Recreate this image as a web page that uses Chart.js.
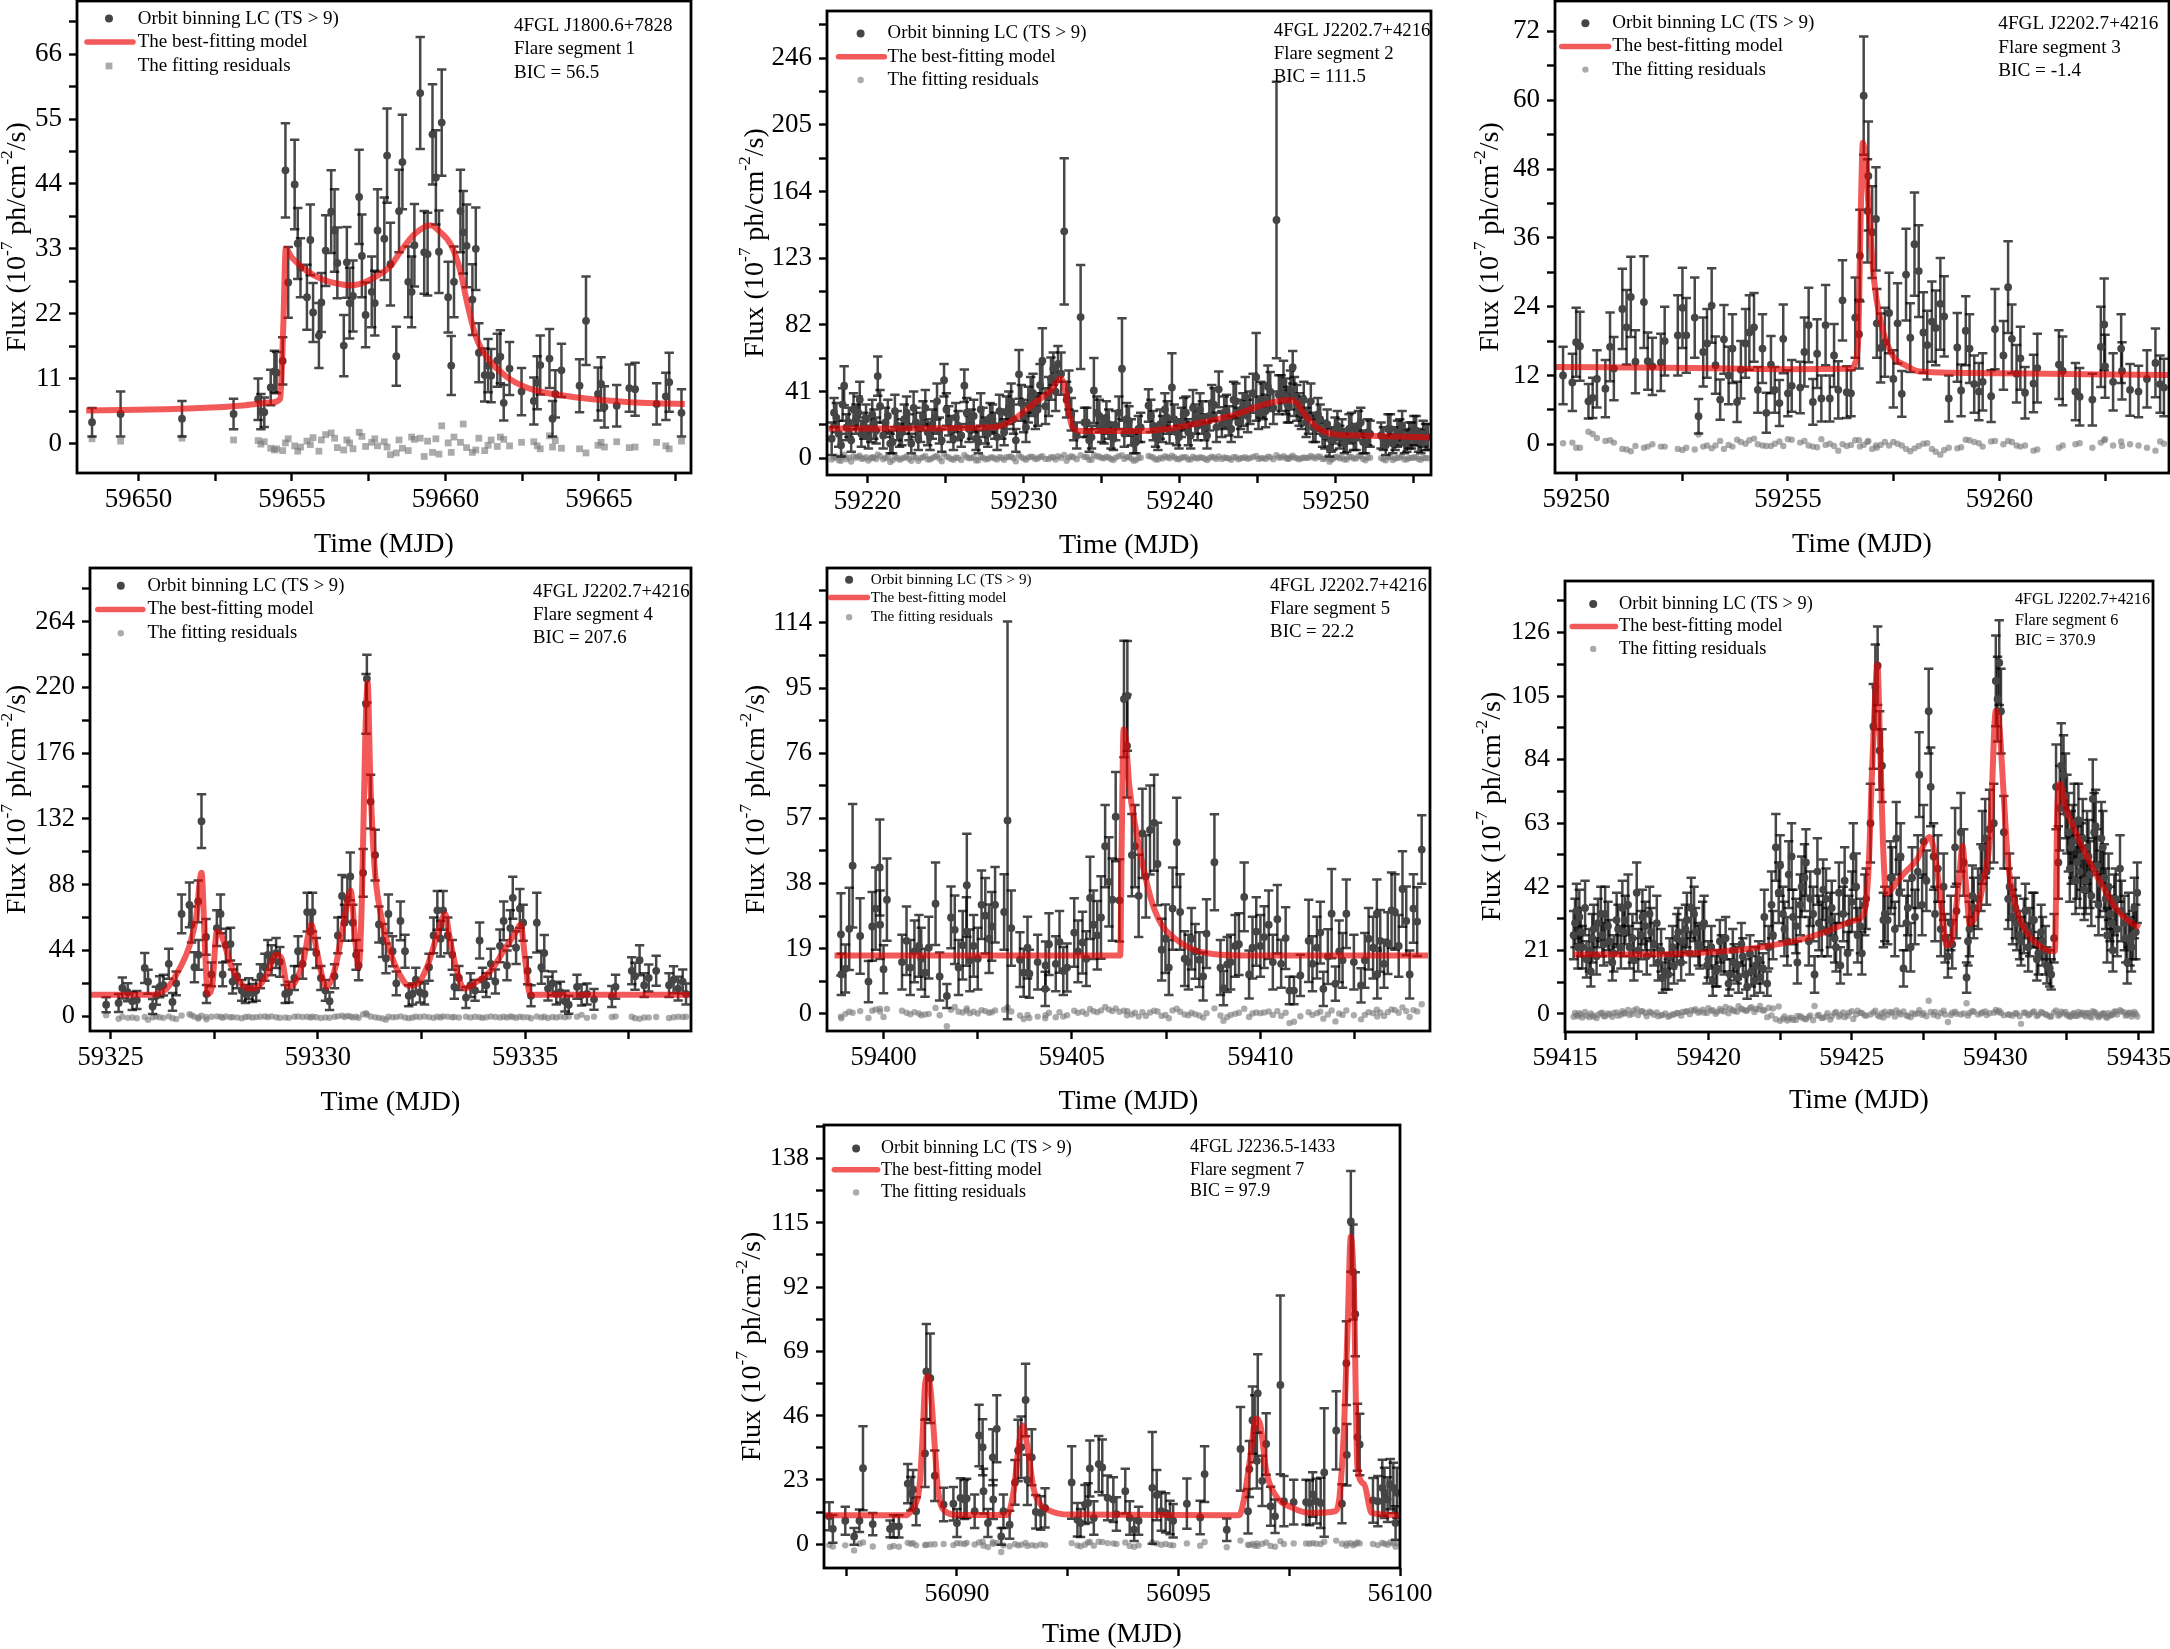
<!DOCTYPE html>
<html>
<head>
<meta charset="utf-8">
<title>Flare segments</title>
<script src="https://cdn.jsdelivr.net/npm/chart.js"></script>
<style>
  html, body { margin: 0; padding: 0; overflow: hidden; background: #fff; }
  body { width: 2170px; height: 1649px; position: relative; }
  canvas { position: absolute; }
</style>
</head>
<body>
<canvas id="c1"></canvas>
<canvas id="c2"></canvas>
<canvas id="c3"></canvas>
<canvas id="c4"></canvas>
<canvas id="c5"></canvas>
<canvas id="c6"></canvas>
<canvas id="c7"></canvas>
<script>
// ---- segment 1 : 4FGL J1800.6+7828 ----
const t1 = [59648.49, 59649.42, 59651.42, 59653.1, 59653.9, 59653.99, 59654.1, 59654.31, 59654.43, 59654.5,
  59654.7, 59654.79, 59654.88, 59655.09, 59655.19, 59655.28, 59655.49, 59655.6, 59655.69, 59655.88,
  59655.96, 59656.1, 59656.28, 59656.39, 59656.48, 59656.69, 59656.79, 59656.88, 59656.99, 59657.19,
  59657.28, 59657.4, 59657.6, 59657.7, 59657.79, 59658.01, 59658.1, 59658.21, 59658.4, 59658.49,
  59658.6, 59658.79, 59658.9, 59658.99, 59659.18, 59659.31, 59659.42, 59659.58, 59659.69, 59659.79,
  59659.88, 59660.09, 59660.19, 59660.28, 59660.49, 59660.58, 59660.69, 59660.88, 59660.99, 59661.09,
  59661.28, 59661.39, 59661.49, 59661.69, 59661.79, 59661.9, 59662.09, 59662.48, 59662.88, 59662.99,
  59663.09, 59663.39, 59663.49, 59663.58, 59663.78, 59664.37, 59664.58, 59664.97, 59665.07, 59665.18,
  59665.58, 59665.99, 59666.18, 59666.88, 59667.18, 59667.29, 59667.69];
const f1 = [3.6, 5.0, 4.2, 5.0, 7.5, 5.4, 5.3, 9.5, 12.2, 12.0,
  14.0, 46.3, 27.3, 43.9, 33.9, 29.8, 24.8, 34.5, 22.2, 18.3,
  23.9, 32.7, 39.3, 36.1, 30.6, 16.6, 30.7, 23.8, 25.0, 41.8,
  31.8, 21.8, 25.7, 23.8, 36.1, 34.7, 48.8, 30.4, 14.8, 39.4,
  47.7, 27.4, 25.7, 33.6, 59.4, 32.4, 32.1, 52.4, 45.1, 32.5,
  54.4, 24.8, 13.2, 27.4, 39.4, 35.8, 33.5, 24.4, 33.0, 15.4,
  11.6, 13.2, 11.5, 14.1, 14.7, 6.9, 12.7, 8.8, 7.2, 10.3,
  13.3, 14.4, 4.2, 8.4, 12.4, 9.8, 20.8, 8.4, 10.1, 6.2,
  6.4, 9.4, 9.2, 6.7, 8.0, 10.4, 5.2];
const e1 = [2.4, 3.8, 3, 2.6, 3.5, 3, 2.5, 3, 3.5, 3.5,
  4, 8, 6, 7.6, 6, 5, 5.5, 6, 5, 5.5,
  5, 6, 7, 7, 6, 5.2, 6, 6, 6, 8,
  7, 5.5, 6, 5.5, 7, 7, 8, 7, 5, 7,
  8, 6, 6, 7, 9.5, 7, 7, 8.5, 8, 7,
  9, 6, 5, 6, 7, 7, 7, 6, 7, 5,
  4.5, 4.5, 4.5, 4.5, 4.5, 3, 4.5, 4, 4, 4.5,
  5, 5, 3, 4, 4.5, 4.5, 7.5, 4.5, 4.5, 3.5,
  3.5, 4, 4.5, 3.5, 4, 5, 4];
const r1 = [0.8, 0.4, 0.9, 0.6, 0.5, -0.1, 0.3, -0.8, -1.1, -0.9,
  -1.2, 0.1, 0.8, -0.4, -1.3, -0.6, 0.4, -0.2, 1.0, -1.3,
  0.6, 1.5, 1.8, 0.9, -0.7, -1.1, 0.6, 0.1, -0.9, 1.9,
  1.2, -0.5, 0.2, 0.8, -0.4, 0.3, -0.6, -1.9, -1.6, 0.6,
  -0.8, -1.2, 1.1, 0.7, 0.9, -2.2, 0.4, -1.5, 0.8, -1.8,
  3.0, 0.1, -1.5, 1.1, 0.2, 3.3, -0.7, -1.5, -1.1, 0.9,
  -1.2, -0.3, 0.6, -0.5, 1.1, 0.7, -0.4, 0.2, 0.3, -0.4,
  -0.9, 1.3, -0.6, 0.5, -0.8, -0.9, -1.6, -0.3, 0.2, -0.6,
  0.3, -0.7, -0.6, 0.2, -0.4, -0.9, 0.4];
const mt1 = [59648.3, 59650, 59652, 59653.5, 59654.4, 59654.62, 59654.72, 59654.8, 59655.0, 59655.5, 59656, 59656.5, 59656.85,
  59657.2, 59657.8, 59658.2, 59658.6, 59659.0, 59659.5, 59659.8, 59660.2, 59660.5, 59660.7, 59661.0, 59661.4, 59662,
  59662.5, 59663, 59664, 59665, 59666, 59667, 59667.8];
const mf1 = [5.6, 5.7, 6.0, 6.5, 7.0, 7.6, 20, 33, 31.5, 29.2, 27.8, 27.1, 26.8,
  27.0, 28.5, 30, 33, 35.5, 37, 36, 33.5, 29, 24, 18, 14.3, 11.3,
  9.8, 8.9, 8.0, 7.4, 7.0, 6.8, 6.7];
const xTicks1 = [59650, 59655, 59660, 59665];
const yTicks1 = [0, 11, 22, 33, 44, 55, 66];

// ---- segment 2 : 4FGL J2202.7+4216 ----
const t2 = [59217.7, 59218.0, 59218.3, 59218.5, 59218.8, 59219.1, 59219.4, 59219.6, 59219.9, 59220.2,
  59220.4, 59220.65, 59221.0, 59221.3, 59221.6, 59221.9, 59222.2, 59222.5, 59222.8, 59223.1,
  59223.4, 59223.7, 59224.0, 59224.3, 59224.6, 59224.9, 59225.2, 59225.5, 59225.8, 59226.2,
  59226.5, 59226.8, 59227.1, 59227.4, 59227.7, 59228.0, 59228.3, 59228.6, 59228.9, 59229.2,
  59229.5, 59229.7, 59230.0, 59230.3, 59230.6, 59230.9, 59231.2, 59231.6, 59231.9, 59232.2,
  59232.6, 59232.9, 59233.2, 59233.65, 59233.9, 59234.2, 59234.5, 59234.7, 59235.0, 59235.3,
  59235.6, 59235.9, 59236.3, 59236.6, 59236.9, 59237.2, 59237.5, 59238.0, 59238.3, 59238.6,
  59238.9, 59239.2, 59239.5, 59239.8, 59240.1, 59240.4, 59240.7, 59241.0, 59241.3, 59241.6,
  59241.9, 59242.2, 59242.5, 59242.7, 59243.0, 59243.3, 59243.6, 59243.9, 59244.2, 59244.5,
  59244.9, 59245.2, 59245.5, 59245.8, 59246.2, 59246.5, 59246.8, 59247.0, 59247.24, 59247.5,
  59247.8, 59248.1, 59248.4, 59248.7, 59249.0, 59249.3, 59249.6, 59249.8, 59250.1, 59250.4,
  59250.7, 59251.0, 59251.3, 59251.6, 59251.9, 59252.2, 59252.9, 59253.2, 59253.5, 59253.8,
  59254.1, 59254.4, 59254.7, 59255.0, 59255.3, 59255.6, 59255.9,
  59217.85, 59218.15, 59218.4, 59218.65, 59218.95, 59219.25, 59219.5, 59219.75, 59220.05, 59220.3,
  59220.55, 59220.8, 59221.15, 59221.45, 59221.75, 59222.05, 59222.35, 59222.65, 59222.95, 59223.25,
  59223.55, 59223.85, 59224.15, 59224.45, 59224.75, 59225.05, 59225.35, 59225.65, 59226.0, 59226.35,
  59226.65, 59226.95, 59227.25, 59227.55, 59227.85, 59228.15, 59228.45, 59228.75, 59229.05, 59229.35,
  59229.85, 59230.15, 59230.45, 59230.75, 59231.05, 59231.4, 59231.75, 59232.05, 59232.4, 59232.75,
  59233.05, 59233.4, 59234.05, 59234.35, 59234.85, 59235.15, 59235.45, 59235.75, 59236.1, 59236.45,
  59236.75, 59237.05, 59237.35, 59238.15, 59238.45, 59238.75, 59239.05, 59239.35, 59239.65, 59239.95,
  59240.25, 59240.55, 59240.85, 59241.15, 59241.45, 59241.75, 59242.05, 59242.35, 59242.85, 59243.15,
  59243.45, 59243.75, 59244.05, 59244.35, 59244.7, 59245.05, 59245.35, 59245.65, 59246.0, 59246.35,
  59246.65, 59246.9, 59247.1, 59247.35, 59247.65, 59247.95, 59248.25, 59248.55, 59248.85, 59249.15,
  59249.45, 59249.7, 59249.95, 59250.25, 59250.55, 59250.85, 59251.15, 59251.45, 59251.75, 59252.05,
  59253.05, 59253.35, 59253.65, 59253.95, 59254.25, 59254.55, 59254.85, 59255.15, 59255.45, 59255.75];
const f2 = [12, 25, 8, 44.6, 22, 30, 28, 15, 24, 18,
  21, 50.5, 14, 26, 10, 20, 16, 28, 9, 22,
  19, 31, 13, 25, 17, 48, 23, 12, 20, 44.6,
  18, 26, 10, 22, 15, 24, 13, 21, 28, 35,
  11, 51.6, 26, 33, 40, 30, 60, 38, 55, 58,
  139.5, 42, 20, 86.8, 22, 11, 41.7, 28, 18, 25,
  14, 20, 55.1, 24, 16, 10, 19, 32.5, 20, 12,
  18, 25, 43.5, 16, 22, 28, 14, 24, 30, 19,
  26, 33, 42.4, 21, 29, 18, 35, 27, 38, 31,
  50, 36, 29, 41, 146.5, 40, 38, 32, 56, 34,
  28, 22, 35, 18, 24, 14, 6, 12, 20, 16,
  11, 19, 13, 22, 9, 15, 14, 8, 18, 12,
  16, 10, 14, 17, 11, 15, 13,
  28, 15, 33, 19, 11, 24, 36, 20, 13, 27,
  17, 32, 22, 9, 29, 14, 24, 19, 31, 12,
  26, 16, 21, 35, 11, 30, 18, 25, 14, 28,
  21, 12, 30, 17, 25, 20, 29, 16, 31, 24,
  34, 19, 38, 28, 45, 32, 49, 41, 52, 36,
  27, 14, 22, 13, 26, 17, 21, 12, 28, 15,
  23, 9, 18, 26, 14, 21, 30, 17, 24, 13,
  27, 16, 31, 20, 25, 14, 34, 19, 28, 23,
  36, 22, 30, 26, 40, 28, 35, 44, 31, 39,
  47, 33, 42, 38, 30, 36, 25, 19, 27, 15,
  21, 11, 17, 13, 9, 18, 12, 20, 10, 16,
  12, 18, 9, 15, 20, 11, 14, 17, 10, 13];
const e2 = [10, 9, 7, 12, 9, 10, 10, 8, 9, 8,
  9, 12, 8, 10, 7, 9, 8, 10, 6, 9,
  9, 11, 8, 10, 8, 10, 9, 7, 9, 10,
  8, 10, 7, 9, 8, 9, 8, 9, 10, 11,
  7, 15, 10, 11, 12, 10, 20, 12, 10, 11,
  45, 12, 9, 32, 9, 7, 20, 10, 8, 10,
  8, 9, 31, 10, 8, 7, 9, 10, 9, 7,
  8, 10, 21, 8, 9, 10, 8, 9, 10, 8,
  9, 10, 11, 8, 10, 8, 11, 9, 12, 10,
  27, 11, 10, 12, 85, 11, 11, 10, 10, 11,
  10, 9, 11, 8, 9, 8, 5, 7, 9, 8,
  7, 9, 8, 9, 6, 8, 8, 6, 9, 7,
  8, 7, 8, 9, 7, 8, 8,
  9, 8, 10, 8, 7, 9, 11, 8, 7, 9,
  8, 10, 9, 6, 10, 7, 9, 8, 10, 7,
  9, 8, 9, 11, 7, 10, 8, 9, 7, 9,
  9, 7, 10, 8, 9, 8, 10, 8, 10, 9,
  11, 9, 12, 10, 13, 11, 13, 12, 13, 11,
  10, 8, 9, 7, 10, 8, 9, 7, 10, 8,
  9, 6, 8, 10, 7, 9, 10, 8, 9, 7,
  10, 8, 11, 9, 10, 8, 11, 9, 10, 9,
  11, 9, 10, 10, 12, 10, 11, 13, 10, 12,
  13, 11, 12, 12, 10, 11, 10, 9, 10, 8,
  9, 7, 8, 7, 6, 9, 7, 9, 7, 8,
  7, 9, 6, 8, 9, 7, 8, 9, 7, 8];
const r2 = [-0.8, 0.9, -1.5, 2.2, 0.4, 1.3, 1.0, -0.3, 0.6, 0.0,
  0.3, 2.4, -0.6, 0.8, -1.3, 0.2, -0.2, 1.1, -1.6, 0.4,
  0.1, 1.4, -0.7, 0.9, -0.1, 2.8, 0.5, -0.9, 0.2, 2.1,
  0.0, 0.8, -1.2, 0.4, -0.5, 0.6, -0.8, 0.3, 0.7, 1.1,
  -1.8, 1.9, -0.1, 0.4, 0.8, -0.2, 1.2, -0.4, 0.6, 1.3,
  2.0, 0.4, 0.6, 1.9, 0.8, -0.9, 2.0, 1.1, 0.2, 0.9,
  -0.5, 0.4, 1.9, 0.7, -0.2, -1.1, 0.3, 1.4, 0.5, -0.8,
  -0.1, 0.6, 1.5, -0.4, 0.3, 0.7, -0.7, 0.2, 0.6, -0.3,
  0.1, 0.5, 1.1, -0.5, 0.2, -1.0, 0.6, 0.0, 0.6, 0.1,
  1.4, 0.1, -0.4, 0.6, 1.8, 0.4, 0.3, -0.3, 1.5, 0.0,
  0.0, 0.2, 1.4, -0.1, 0.9, -0.3, -2.1, -0.5, 0.9, 0.4,
  -0.7, 0.8, -0.1, 1.2, -1.2, 0.3, 0.1, -1.3, 0.7, -0.2,
  0.4, -0.8, 0.2, 0.5, -0.5, 0.3, 0.0,
  0.5, -1.2, 1.0, -0.6, -2.0, 0.3, 1.5, -0.2, -1.4, 0.7,
  -0.5, 1.2, 0.2, -2.3, 0.9, -1.0, 0.4, -0.3, 1.1, -1.5,
  0.6, -0.7, 0.1, 1.4, -1.8, 1.0, -0.4, 0.5, -1.1, 0.8,
  0.1, -1.4, 0.9, -0.6, 0.4, -0.2, 0.7, -1.0, 0.8, 0.0,
  0.7, -0.9, 1.0, -0.5, 0.8, -0.4, 0.6, -0.8, 0.3, -1.6,
  1.2, -0.6, 0.9, -0.9, 1.1, 0.0, 0.5, -1.1, 1.3, -0.4,
  0.8, -1.6, 0.3, 1.0, -0.7, 0.4, 1.3, 0.0, 0.7, -0.6,
  0.6, -0.7, 0.9, -0.2, 0.4, -1.1, 1.0, -0.4, 0.5, -0.1,
  0.7, -0.6, 0.2, -0.3, 0.8, -0.4, 0.1, 1.0, -0.6, 0.5,
  1.2, -0.3, 0.7, 0.4, -0.6, 0.5, 0.3, 0.6, 1.1, -0.5,
  0.9, -0.7, 0.6, -0.1, -0.8, 0.9, -0.2, 1.3, -0.5, 0.4,
  -0.6, 0.8, -1.1, 0.3, 1.2, -0.7, 0.2, 0.6, -0.9, 0.1];
const mt2 = [59217.5, 59222, 59226, 59228.3, 59229.5, 59230.65, 59231.8, 59232.35, 59232.6, 59232.85, 59233.15, 59233.6,
  59237.7, 59239.5, 59241.2, 59243.6, 59245.6, 59247, 59247.5, 59248, 59248.9, 59249.8, 59251.5, 59253, 59256.1];
const mf2 = [18.3, 18.3, 18.6, 19.3, 24.8, 33.6, 42.4, 49, 45, 30, 18.5, 16.8,
  16.8, 18.5, 21.5, 27, 33.6, 35.8, 34, 27, 18.2, 14.9, 14, 13.6, 12.8];
const xTicks2 = [59220, 59230, 59240, 59250];
const yTicks2 = [0, 41, 82, 123, 164, 205, 246];

// ---- segment 3 : 4FGL J2202.7+4216 ----
const t3 = [59249.69, 59249.91, 59250.0, 59250.09, 59250.29, 59250.39, 59250.49, 59250.69, 59250.8, 59250.89,
  59251.09, 59251.19, 59251.29, 59251.4, 59251.6, 59251.69, 59251.8, 59252.0, 59252.09, 59252.4,
  59252.51, 59252.6, 59252.8, 59252.89, 59253.0, 59253.09, 59253.2, 59253.29, 59253.4, 59253.49,
  59253.6, 59253.69, 59253.8, 59253.89, 59254.0, 59254.09, 59254.2, 59254.29, 59254.4, 59254.49,
  59254.6, 59254.69, 59254.8, 59254.89, 59255.0, 59255.09, 59255.29, 59255.39, 59255.49, 59255.59,
  59255.69, 59255.79, 59255.89, 59255.99, 59256.09, 59256.19, 59256.29, 59256.39, 59256.49, 59256.59,
  59256.68, 59256.7, 59256.79, 59256.88, 59256.9, 59256.99, 59257.08, 59257.1, 59257.19, 59257.29,
  59257.39, 59257.49, 59257.59, 59257.69, 59257.79, 59257.89, 59257.99, 59258.09, 59258.2, 59258.29,
  59258.4, 59258.49, 59258.6, 59258.69, 59258.8, 59259.0, 59259.09, 59259.2, 59259.29, 59259.4,
  59259.51, 59259.6, 59259.8, 59259.89, 59260.09, 59260.2, 59260.29, 59260.4, 59260.49, 59260.6,
  59260.8, 59260.89, 59261.4, 59261.49, 59261.79, 59261.89, 59262.19, 59262.39, 59262.47, 59262.49,
  59262.68, 59262.87, 59262.89, 59263.08, 59263.28, 59263.48, 59263.68, 59263.79, 59263.88];
const f3 = [12.0, 10.8, 17.8, 17.1, 7.5, 8.1, 11.4, 9.7, 17.0, 13.2,
  23.6, 20.4, 25.7, 14.4, 24.8, 14.5, 13.6, 14.3, 18.0, 19.0,
  23.8, 19.0, 22.1, 4.9, 16.1, 17.6, 24.2, 13.8, 7.8, 18.3,
  12.0, 16.7, 7.4, 13.0, 17.6, 19.5, 20.4, 9.5, 16.7, 5.5,
  13.9, 9.5, 7.2, 18.4, 8.9, 10.2, 9.9, 16.1, 20.8, 7.4,
  15.8, 8.0, 20.8, 8.0, 15.5, 9.5, 25.1, 9.1, 8.9, 22.1,
  19.2, 32.9, 60.8, 40.7, 46.8, 37.0, 39.3, 21.1, 16.8, 17.8,
  22.9, 11.4, 21.1, 8.8, 29.6, 18.6, 34.9, 30.2, 19.5, 17.3,
  21.4, 20.3, 24.5, 22.3, 8.0, 16.9, 9.4, 19.8, 16.7, 10.5,
  9.2, 10.9, 8.4, 20.1, 15.5, 27.4, 18.4, 12.3, 15.0, 9.0,
  10.6, 13.3, 13.9, 12.8, 9.2, 8.3, 7.8, 17.0, 20.9, 13.6,
  10.9, 16.7, 12.8, 9.5, 9.2, 11.4, 14.2, 10.5, 9.9];
const e3 = [5, 5, 6, 6, 3, 3.5, 5, 5, 6, 5.5,
  7, 6.5, 7, 5.5, 8, 5, 5, 5, 6, 7,
  7, 6.5, 7, 3, 6, 6, 6.5, 5, 3.5, 6,
  5, 6, 3.5, 5, 6, 6.5, 6, 4, 6, 3.5,
  5, 4, 4, 6, 4, 4.5, 4.5, 6, 6.5, 4,
  6, 4, 7, 4, 5.5, 5, 7, 4.5, 4, 7,
  6, 8, 10.3, 9, 9.5, 8, 9, 6, 6, 6,
  7, 5, 7, 4, 8, 6, 9, 8, 7, 6,
  7, 6.5, 8, 7, 4, 6, 4.5, 6, 6, 5,
  5, 5, 4.5, 7, 6, 8, 6, 5, 5.5, 4.5,
  5, 6, 6, 6, 5, 5, 4.5, 7, 8, 5.5,
  5, 6, 5, 4.5, 4.5, 5, 6, 5, 5];
const r3 = [0.2, 0.3, -0.6, -0.6, 2.2, 1.8, 1.1, 0.6, 0.7, 0.3,
  -0.8, -0.9, -1.2, -0.3, -0.6, -0.4, 0.0, -0.4, -0.4, -0.8,
  -1.0, -0.6, -0.9, 1.7, -0.4, -0.2, -0.7, -0.2, 0.6, -0.8,
  -0.1, -0.4, 0.8, 0.4, 0.1, 0.7, 1.0, 0.0, -0.2, -0.3,
  -0.3, 0.1, 0.5, -0.3, 0.9, 0.8, 0.3, 0.6, -0.2, -0.4,
  -0.5, 0.9, -0.1, 0.1, -0.3, -1.1, 0.0, -0.3, -0.1, 0.7,
  0.7, -0.4, -0.1, 0.4, 0.6, -0.8, -0.2, -0.6, -0.1, 0.4,
  -0.2, 0.4, 0.1, -0.2, -0.8, -1.2, -0.7, -0.3, 0.1, 0.2,
  -0.8, -1.3, -1.8, -1.0, -0.6, -0.7, -0.5, 0.8, 0.7, 0.4,
  0.2, -0.4, 0.5, 0.6, 0.0, 0.6, 0.4, -0.2, -0.4, -0.2,
  -1.1, -0.9, -0.6, -0.2, 0.0, 0.2, -0.6, 0.3, 0.7, 0.9,
  -0.2, 0.5, -0.3, 0.0, -0.2, -0.6, -1.1, 0.5, 0.1];
const mt3 = [59249.5, 59252.8, 59255, 59256.5, 59256.58, 59256.66, 59256.72, 59256.77, 59256.83, 59256.9, 59257.03,
  59257.19, 59257.45, 59257.82, 59258.1, 59260, 59262, 59264];
const mf3 = [13.5, 13.3, 13.1, 13.2, 14, 18.3, 40, 52.6, 50, 42, 28.9,
  21.4, 15.8, 13.6, 12.7, 12.4, 12.2, 12.1];
const xTicks3 = [59250, 59255, 59260];
const yTicks3 = [0, 12, 24, 36, 48, 60, 72];

// ---- segment 4 : 4FGL J2202.7+4216 ----
const t4 = [59324.89, 59325.19, 59325.28, 59325.41, 59325.52, 59325.63, 59325.82, 59325.9, 59326.01, 59326.1,
  59326.18, 59326.27, 59326.4, 59326.49, 59326.58, 59326.71, 59326.9, 59326.95, 59327.02, 59327.11,
  59327.12, 59327.19, 59327.3, 59327.31, 59327.43, 59327.56, 59327.65, 59327.7, 59327.78, 59327.89,
  59327.94, 59328.05, 59328.16, 59328.25, 59328.33, 59328.42, 59328.51, 59328.61, 59328.72, 59328.79,
  59328.88, 59328.99, 59329.08, 59329.21, 59329.3, 59329.43, 59329.52, 59329.63, 59329.74, 59329.82,
  59329.87, 59329.96, 59330.07, 59330.18, 59330.28, 59330.4, 59330.48, 59330.58, 59330.64, 59330.71,
  59330.78, 59330.84, 59330.92, 59330.98, 59331.09, 59331.16, 59331.18, 59331.27, 59331.38, 59331.47,
  59331.56, 59331.64, 59331.7, 59331.8, 59331.89, 59331.99, 59332.1, 59332.19, 59332.28, 59332.36,
  59332.46, 59332.57, 59332.68, 59332.79, 59332.88, 59332.96, 59333.02, 59333.13, 59333.24, 59333.29,
  59333.4, 59333.57, 59333.68, 59333.79, 59333.9, 59333.97, 59334.06, 59334.17, 59334.28, 59334.39,
  59334.48, 59334.56, 59334.64, 59334.7, 59334.78, 59334.87, 59334.95, 59335.06, 59335.14, 59335.28,
  59335.39, 59335.46, 59335.55, 59335.66, 59335.75, 59335.85, 59335.96, 59336.05, 59336.25, 59336.36,
  59336.49, 59336.66, 59337.09, 59337.18, 59337.57, 59337.65, 59337.76, 59337.87, 59337.98, 59338.16,
  59338.47, 59338.58, 59338.69, 59338.8, 59338.88];
const f4 = [7.6, 8.8, 18.8, 16, 10, 10.7, 32.2, 23, 6.4, 13.6,
  19.6, 20.7, 35, 9.5, 21.9, 68.4, 74.4, 61.3, 32.7, 76.8,
  41, 130.5, 53, 14.8, 27.9, 58.9, 68.4, 27.9, 47.5, 48.2,
  23.1, 26.7, 17.2, 14.8, 18.4, 15.5, 17.2, 26.7, 32.7, 41,
  37.4, 42.2, 36.3, 14.8, 16, 25.5, 43.4, 35, 69.6, 56.5,
  69.6, 42.2, 25.5, 17.2, 10, 26.7, 54, 80.4, 62.5, 78,
  93.5, 62.5, 41, 33.9, 95.9, 209, 225.9, 143.6, 107.8, 61.3,
  50.6, 38.6, 68.4, 43.4, 21.9, 63.7, 43.4, 13.6, 14.8, 24.3,
  16, 14.8, 32.7, 54, 70.8, 51.8, 70.8, 54, 41, 19.6,
  25.5, 12.4, 20.7, 17.2, 50.6, 24.3, 20.7, 35, 23.1, 47,
  63.7, 33.9, 58.9, 79.2, 45.8, 72, 62.5, 30.3, 13.6, 62.5,
  32.7, 42.2, 18.4, 21.9, 14.8, 16, 10, 7.6, 19.6, 14.1,
  14.8, 11.2, 13.1, 19.6, 30.3, 26.7, 37.4, 20.7, 25.5, 30.3,
  20.7, 24.3, 18.4, 23.1, 14.8];
const e4 = [5, 6, 7, 6, 6, 6, 10, 8, 5, 6,
  7, 7, 10, 6, 8, 13, 15, 12, 10, 14,
  10, 18, 12, 6, 8, 12, 13, 8, 11, 11,
  8, 8, 7, 6, 7, 6, 7, 8, 9, 10,
  10, 10, 10, 6, 7, 8, 10, 10, 13, 12,
  13, 10, 8, 7, 6, 8, 12, 14, 12, 15,
  16, 12, 10, 10, 16, 20, 16, 18, 17, 12,
  11, 10, 13, 10, 8, 13, 11, 7, 7, 8,
  7, 7, 9, 12, 13, 12, 13, 12, 10, 8,
  8, 7, 8, 7, 12, 8, 8, 10, 8, 11,
  13, 10, 12, 14, 11, 13, 12, 9, 7, 20,
  11, 12, 8, 8, 7, 7, 7, 6, 8, 7,
  7, 7, 7, 8, 9, 9, 10, 8, 9, 10,
  8, 9, 8, 8, 7];
const r4 = [0.6, -1.8, -0.4, -1.2, -1.0, -1.5, -0.6, -2.5, -0.8, -0.3,
  -0.8, -1.2, -0.2, -1.4, -2.0, 0.4, 1.2, 0.5, -0.4, -1.6,
  -0.9, 0.2, -0.6, -2.2, -0.5, -0.2, -0.4, -1.1, -0.3, -0.8,
  -0.7, -0.9, -1.5, -0.6, -0.4, -1.0, -0.7, -0.5, -0.3, -0.6,
  -0.2, -0.8, -1.1, -0.9, -1.2, -0.4, -0.3, -0.6, -0.5, -1.0,
  -0.4, -0.8, -1.3, -0.9, -1.1, -0.5, -0.2, 0.3, -0.6, 0.1,
  -0.3, -0.9, -0.5, -1.2, 1.2, 2.0, 0.9, -0.3, -0.8, -1.2,
  -1.6, -2.4, -0.4, -0.8, -0.7, -0.2, -0.9, -1.4, -1.0, -0.4,
  -0.6, -0.3, -0.7, -1.1, -0.5, -0.9, -0.2, -0.4, -0.8, -0.6,
  -1.0, -0.4, -0.9, -0.5, -0.7, -1.2, -0.8, -0.3, -0.6, -1.0,
  -0.5, -0.9, -0.2, -0.6, -1.1, -0.4, -0.8, -0.7, -1.5, -0.3,
  -0.9, -0.5, -1.3, -0.6, -1.0, -0.4, -0.8, -0.3, -0.5, 0.8,
  -1.2, -0.4, -0.6, -0.3, -0.5, -1.4, -1.8, -1.0, -0.9, -0.6,
  -1.3, -0.8, -0.4, -0.6, -0.5];
const mt4 = [59324.5, 59326.0, 59326.35, 59326.68, 59326.9, 59327.06, 59327.19, 59327.28, 59327.34, 59327.45, 59327.56,
  59327.67, 59327.89, 59328.11, 59328.33, 59328.55, 59328.77, 59328.99, 59329.12, 59329.27, 59329.43, 59329.65,
  59329.84, 59329.98, 59330.2, 59330.42, 59330.64, 59330.79, 59330.89, 59330.98, 59331.06, 59331.14, 59331.2,
  59331.26, 59331.36, 59331.53, 59331.75, 59331.97, 59332.19, 59332.41, 59332.63, 59332.85, 59333.07, 59333.18,
  59333.35, 59333.53, 59333.84, 59334.17, 59334.5, 59334.78, 59334.89, 59335.0, 59335.11, 59335.2, 59339];
const mf4 = [14.3, 14.3, 18.4, 32.7, 47, 66, 95.9, 42, 14.8, 20.7, 56.5,
  54, 35, 23, 18.4, 19.6, 27.9, 41, 38.6, 19.6, 21.9, 37.4,
  61.3, 42.2, 19.6, 32.7, 66, 84, 54, 32.7, 78, 185, 223,
  161, 102, 66, 42.2, 27.9, 20.3, 21.9, 32.7, 51.8, 68.4, 51.8,
  30.3, 18.4, 23.1, 30.3, 44.6, 56.5, 61.3, 37.4, 14.8, 14.3, 14.3];
const xTicks4 = [59325, 59330, 59335];
const yTicks4 = [0, 44, 88, 132, 176, 220, 264];

// ---- segment 5 : 4FGL J2202.7+4216 ----
const t5 = [59398.87, 59398.88, 59398.99, 59399.09, 59399.18, 59399.38, 59399.6, 59399.7, 59399.79, 59399.9,
  59399.91, 59400.0, 59400.09, 59400.49, 59400.61, 59400.71, 59400.82, 59400.94, 59401.0, 59401.1,
  59401.2, 59401.38, 59401.49, 59401.68, 59401.79, 59401.89, 59401.99, 59402.1, 59402.2, 59402.21,
  59402.29, 59402.39, 59402.5, 59402.6, 59402.7, 59402.8, 59402.87, 59402.96, 59403.2, 59403.29,
  59403.39, 59403.62, 59403.72, 59403.82, 59403.87, 59404.09, 59404.29, 59404.3, 59404.39, 59404.57,
  59404.67, 59404.77, 59404.87, 59405.06, 59405.16, 59405.28, 59405.38, 59405.48, 59405.57, 59405.67,
  59405.77, 59405.88, 59405.98, 59406.07, 59406.16, 59406.26, 59406.38, 59406.46, 59406.47, 59406.59,
  59406.67, 59406.77, 59406.87, 59406.96, 59407.07, 59407.18, 59407.27, 59407.38, 59407.48, 59407.57,
  59407.67, 59407.78, 59407.87, 59407.99, 59408.09, 59408.17, 59408.27, 59408.38, 59408.48, 59408.57,
  59408.78, 59408.94, 59409.02, 59409.12, 59409.21, 59409.33, 59409.43, 59409.57, 59409.7, 59409.79,
  59409.89, 59410.0, 59410.1, 59410.22, 59410.33, 59410.45, 59410.55, 59410.67, 59410.77, 59410.89,
  59411.06, 59411.28, 59411.38, 59411.5, 59411.59, 59411.67, 59411.79, 59411.89, 59411.99, 59412.09,
  59412.18, 59412.28, 59412.48, 59412.67, 59412.77, 59412.87, 59412.99, 59413.09, 59413.1, 59413.18,
  59413.28, 59413.38, 59413.48, 59413.57, 59413.67, 59413.77, 59413.87, 59413.96, 59414.06, 59414.16,
  59414.28];
const f5 = [23.2, 11.5, 13.2, 24.8, 43.2, 22.7, 9.4, 25.5, 30.7, 42.7,
  26, 13, 33.3, 15.1, 21.3, 13.5, 18.2, 19.8, 16.1, 12,
  19.3, 32.1, 10.9, 5.2, 28.1, 24.5, 13.5, 20, 24, 37.5,
  15.6, 19.8, 16.1, 31.8, 28.6, 21.9, 25.5, 31.8, 29.7, 56.4,
  25, 15.8, 12, 19.3, 11.7, 15.1, 7.3, 14.1, 20.3, 14.6,
  21, 12.5, 13.5, 23.7, 18.2, 20.8, 16.1, 33.8, 26, 22.9,
  28.1, 48.9, 38.5, 33.3, 57.5, 33.1, 91.8, 78.1, 92.7, 46.3,
  48.9, 34.4, 52.6, 40.1, 53.6, 55.7, 43.7, 18.7, 21.9, 13.5,
  30.7, 50, 29.7, 16.1, 15.1, 21.9, 18.2, 15.8, 10.9, 23.4,
  44.2, 13.5, 7.5, 14.4, 15.1, 19.8, 20.3, 34.1, 11.5, 19.3,
  24, 19.8, 22.4, 26, 15.1, 27.6, 14.6, 22.1, 6.8, 6.8,
  11.2, 21.3, 14.6, 19.3, 23.7, 7.3, 16.7, 29.2, 8.8, 18.2,
  15.6, 29.2, 15.1, 8.3, 15.6, 21.9, 19.3, 29.2, 11.5, 21.3,
  14.6, 20.6, 30.2, 29.7, 19.8, 36.4, 27.1, 11.5, 30.7, 26.9,
  47.9];
const e5 = [12, 6, 7, 12, 18, 11, 6, 10, 12, 14,
  10, 7, 12, 8, 10, 8, 9, 9, 9, 7,
  9, 12, 7, 3.5, 9, 10, 8, 10, 10, 15,
  9, 9, 9, 10, 11, 10, 10, 11, 11, 58,
  11, 8, 7, 9, 7, 8, 5, 7, 9, 8,
  9, 7, 7, 10, 9, 9, 8, 12, 10, 10,
  12, 12, 13, 12, 13, 12, 17, 15, 16, 12,
  12, 12, 13, 12, 13, 14, 12, 9, 10, 8,
  12, 13, 11, 8, 8, 9, 8, 8, 7, 10,
  14, 8, 5, 8, 8, 9, 9, 10, 7, 9,
  10, 9, 9, 10, 8, 10, 7, 9, 4, 4,
  6, 12, 8, 9, 9, 5, 8, 13, 5, 9,
  8, 10, 8, 5, 8, 9, 9, 10, 7, 9,
  7, 9, 11, 11, 9, 11, 10, 7, 10, 10,
  10];
const r5 = [-0.8, -1.3, 0.0, 0.6, 0.3, 0.8, -1.2, 0.9, 1.3, 1.5,
  0.7, -0.9, 1.4, 0.9, 0.3, -0.1, 0.5, 0.1, -0.4, -0.2,
  0.0, 1.7, -0.4, -3.6, 1.2, 2.0, 0.6, 0.4, 1.0, 1.6,
  0.2, 0.6, 0.1, 1.1, 0.8, 0.3, 0.5, 1.0, 1.2, 1.9,
  0.7, -0.5, -1.5, -0.3, -1.2, -0.8, -1.3, -0.4, 0.3, -1.0,
  0.5, -0.8, -0.4, 0.9, 0.3, 0.6, 0.0, 1.4, 0.8, 0.5,
  1.0, 2.0, 1.3, 0.8, 1.6, 0.6, 0.9, -0.4, 0.8, -0.2,
  0.3, -0.8, 0.5, -0.6, 0.4, 0.9, 0.7, -0.6, -0.3, -1.3,
  1.0, 1.5, 0.6, -0.2, -0.4, 0.3, -0.1, -0.5, -1.1, 0.2,
  1.6, -0.5, -2.0, -0.9, -0.3, 0.0, 0.3, 1.5, -0.9, 0.1,
  0.4, 0.2, 0.4, 0.7, -0.3, 0.8, -0.6, 0.3, -2.7, -2.3,
  -0.7, 0.5, -0.3, 0.2, 0.6, -1.4, -0.2, 1.0, -2.2, 0.1,
  -0.3, 1.0, -0.4, -1.6, -0.3, 0.5, 0.2, 1.2, -0.8, 0.4,
  -0.6, 0.5, 1.3, 1.1, 0.3, 1.9, 0.8, -0.9, 1.1, 0.7,
  2.8];
const mt5 = [59398.7, 59406.28, 59406.32, 59406.37, 59406.43, 59406.52, 59406.71, 59406.89, 59407.13, 59407.38,
  59407.74, 59408.23, 59408.8, 59409.5, 59414.45];
const mf5 = [17, 17, 50, 83, 80, 66.6, 53, 42.7, 32.3, 26,
  21.9, 18.7, 17.4, 17.05, 17];
const xTicks5 = [59400, 59405, 59410];
const yTicks5 = [0, 19, 38, 57, 76, 95, 114];

// ---- segment 6 : 4FGL J2202.7+4216 ----
const t6 = [59415.3, 59415.4, 59415.5, 59415.6, 59415.75, 59415.9, 59416.0, 59416.15, 59416.3, 59416.4,
  59416.55, 59416.7, 59416.85, 59417.0, 59417.1, 59417.25, 59417.4, 59417.5, 59417.65, 59417.8,
  59417.95, 59418.1, 59418.25, 59418.4, 59418.5, 59418.65, 59418.8, 59418.95, 59419.1, 59419.25,
  59419.4, 59419.55, 59419.7, 59419.85, 59420.0, 59420.15, 59420.3, 59420.45, 59420.6, 59420.75,
  59420.9, 59421.05, 59421.2, 59421.35, 59421.5, 59421.65, 59421.8, 59421.95, 59422.05, 59422.2,
  59422.35, 59422.5, 59422.65, 59422.8, 59422.95, 59423.1, 59423.25, 59423.4, 59423.55, 59423.7,
  59423.85, 59424.0, 59424.15, 59424.3, 59424.45, 59424.6, 59424.75, 59424.9, 59425.05, 59425.2,
  59425.35, 59425.5, 59425.65, 59425.75, 59425.82, 59425.9, 59425.97, 59426.05, 59426.15, 59426.25,
  59426.4, 59426.55, 59426.7, 59426.8, 59426.95, 59427.1, 59427.2, 59427.35, 59427.5, 59427.6,
  59427.68, 59427.75, 59427.85, 59428.0, 59428.1, 59428.25, 59428.35, 59428.5, 59428.65, 59428.8,
  59428.9, 59429.0, 59429.1, 59429.25, 59429.4, 59429.55, 59429.7, 59429.8, 59429.95, 59430.02,
  59430.08, 59430.14, 59430.2, 59430.3, 59430.45, 59430.6, 59430.75, 59430.9, 59431.05, 59431.2,
  59431.35, 59431.5, 59431.65, 59431.8, 59431.95, 59432.05, 59432.12, 59432.2, 59432.3, 59432.38,
  59432.5, 59432.6, 59432.7, 59432.8, 59432.9, 59433.0, 59433.1, 59433.2, 59433.3, 59433.4,
  59433.5, 59433.6, 59433.7, 59433.8, 59433.9, 59434.0, 59434.1, 59434.2, 59434.35, 59434.5,
  59434.6, 59434.7, 59434.8, 59434.95,
  59415.35, 59415.45, 59415.55, 59415.7, 59415.85, 59415.95, 59416.1, 59416.25, 59416.35, 59416.5,
  59416.65, 59416.8, 59416.95, 59417.05, 59417.2, 59417.35, 59417.55, 59417.7, 59417.85, 59418.0,
  59418.2, 59418.35, 59418.6, 59418.75, 59418.9, 59419.05, 59419.2, 59419.35, 59419.5, 59419.65,
  59419.8, 59419.95, 59420.1, 59420.25, 59420.4, 59420.55, 59420.7, 59420.85, 59421.0, 59421.15,
  59421.3, 59421.45, 59421.6, 59421.75, 59421.9, 59422.1, 59422.25, 59422.45, 59422.6, 59422.75,
  59422.9, 59423.05, 59423.2, 59423.35, 59423.5, 59423.65, 59423.8, 59423.95, 59424.1, 59424.25,
  59424.4, 59424.55, 59424.7, 59424.85, 59425.0, 59425.15, 59425.3, 59425.45, 59426.1, 59426.35,
  59426.5, 59426.65, 59426.9, 59427.05, 59427.3, 59427.45, 59427.9, 59428.2, 59428.45, 59428.6,
  59429.05, 59429.2, 59429.5, 59429.65, 59430.5, 59430.7, 59430.85, 59431.0, 59431.15, 59431.3,
  59431.45, 59431.6, 59431.75, 59431.9, 59432.25, 59432.45, 59432.55, 59432.65, 59432.75, 59432.85,
  59432.95, 59433.05, 59433.15, 59433.25, 59433.35, 59433.45, 59433.55, 59433.65, 59433.75, 59433.85,
  59433.95, 59434.05, 59434.15, 59434.25, 59434.4, 59434.55, 59434.65, 59434.75, 59434.85, 59434.9];
const f6 = [26, 34, 32, 22, 18, 14, 28, 30, 26, 33,
  24, 20, 28, 35, 31, 22, 18, 40, 26, 29,
  33, 23, 17, 12, 14, 19, 16, 27, 24, 31,
  35, 27, 22, 30, 18, 11, 15, 20, 25, 13,
  17, 12, 19, 9, 14, 16, 12, 32, 10, 36,
  55, 49, 28, 46, 32, 17, 42, 50, 38, 13,
  30, 41, 27, 35, 22, 16, 44, 30, 52, 26,
  20, 38, 63, 95, 108, 115, 87, 82, 33, 31,
  45, 58, 52, 15, 35, 45, 32, 79, 57, 44,
  100, 75, 52, 48, 28, 25, 19, 23, 34, 60,
  50, 12, 28, 35, 38, 55, 47, 61, 63, 110,
  104, 116, 100, 60, 38, 32, 30, 24, 34, 27,
  31, 20, 24, 16, 13, 25, 75, 50, 82, 79,
  66, 48, 57, 44, 64, 52, 41, 55, 46, 71,
  62, 36, 58, 45, 26, 33, 21, 38, 48, 30,
  17, 24, 26, 40,
  30, 22, 27, 35, 21, 25, 19, 33, 23, 29,
  17, 31, 22, 27, 36, 25, 21, 32, 19, 27,
  30, 21, 13, 22, 25, 17, 28, 20, 33, 23,
  29, 16, 22, 14, 24, 19, 10, 21, 16, 23,
  13, 20, 11, 18, 15, 22, 26, 40, 33, 24,
  52, 29, 36, 45, 24, 33, 47, 28, 38, 31,
  25, 40, 33, 20, 37, 42, 29, 36, 31, 45,
  28, 40, 30, 22, 47, 36, 33, 42, 30, 55,
  24, 39, 45, 58, 42, 35, 26, 29, 22, 31,
  18, 27, 21, 15, 68, 72, 60, 55, 63, 50,
  47, 58, 44, 52, 39, 60, 49, 43, 55, 38,
  42, 30, 36, 28, 34, 25, 31, 22, 35, 27];
const e6 = [8, 9, 9, 7, 6, 5, 8, 8, 7, 9,
  7, 6, 8, 9, 8, 7, 7, 10, 8, 8,
  9, 7, 6, 5, 6, 6, 6, 8, 7, 9,
  10, 8, 7, 9, 6, 5, 6, 6, 7, 5,
  6, 5, 6, 4, 5, 6, 5, 9, 4, 11,
  11, 10, 9, 11, 9, 7, 10, 11, 9, 6,
  9, 10, 8, 9, 8, 6, 11, 9, 11, 9,
  7, 10, 13, 14, 14, 13, 13, 12, 9, 8,
  10, 12, 11, 6, 9, 10, 9, 14, 12, 10,
  14, 13, 11, 11, 9, 8, 7, 8, 9, 13,
  11, 5, 9, 10, 10, 12, 11, 13, 13, 15,
  14, 14, 14, 12, 10, 9, 9, 8, 9, 8,
  9, 7, 8, 6, 5, 8, 14, 12, 14, 13,
  13, 11, 12, 11, 12, 11, 10, 12, 11, 13,
  12, 10, 12, 11, 9, 9, 7, 10, 11, 9,
  7, 8, 8, 10,
  8, 7, 8, 9, 7, 8, 6, 9, 7, 8,
  6, 9, 7, 8, 10, 8, 7, 9, 6, 8,
  9, 7, 5, 7, 8, 6, 8, 7, 9, 7,
  8, 6, 7, 5, 7, 6, 4, 7, 6, 7,
  5, 6, 5, 6, 5, 7, 8, 10, 9, 8,
  11, 9, 10, 11, 8, 9, 11, 9, 10, 9,
  8, 10, 9, 7, 10, 11, 9, 10, 9, 12,
  9, 11, 9, 8, 12, 10, 9, 11, 9, 13,
  8, 10, 11, 13, 11, 10, 8, 9, 8, 9,
  7, 9, 8, 6, 14, 14, 13, 12, 13, 12,
  12, 13, 11, 12, 10, 13, 12, 11, 12, 10,
  11, 9, 10, 9, 10, 8, 9, 8, 10, 9];
const r6 = [-1.0, -0.4, 0.2, -1.2, -0.6, 0.1, -0.9, -0.3, 0.4, -0.8,
  -0.2, 0.3, -0.6, 0.9, 0.2, -0.4, 1.1, 1.6, 0.8, 0.3,
  0.7, -0.3, -0.8, -0.4, 0.1, -0.6, -0.2, 0.2, 0.6, 0.9,
  1.2, 1.5, 0.8, 0.4, 1.9, 1.2, 0.6, 1.0, 2.3, 1.8,
  0.9, 2.5, 1.4, 1.1, 2.2, 1.6, 2.6, 1.2, -1.1, -0.5,
  -1.8, -2.3, -0.9, -1.5, -2.0, -0.7, -1.2, -1.8, -0.5, 2.6,
  -0.4, -1.3, 0.2, -0.8, 0.6, -0.3, -1.1, 0.4, -1.7, 1.0,
  0.3, -0.6, -0.2, 0.5, 1.0, -0.5, -0.9, 0.2, 0.7, -0.4,
  0.4, 1.1, -0.2, 0.8, -0.7, 0.3, -0.1, 1.2, 0.2, -0.8,
  4.3, 0.6, -0.3, -0.8, 0.3, -0.2, -2.7, 0.4, 0.0, -0.2,
  0.1, 3.5, 0.3, 0.7, -0.2, 0.5, -0.4, 0.2, 0.4, 1.3,
  0.6, 1.0, 0.3, -0.5, -0.2, -0.6, 0.1, -3.3, 0.4, -0.1,
  0.8, -0.3, 0.3, -0.4, -0.9, 0.5, 1.1, -0.6, 0.7, 0.2,
  -0.5, -1.0, 0.0, -0.7, 0.6, 0.1, -0.4, 0.3, -0.8, 0.9,
  0.4, -1.1, -0.2, 0.1, -1.3, -0.6, -0.2, 0.8, 1.2, 0.5,
  -0.3, 0.4, -0.1, -0.9,
  0.3, -0.8, -0.2, 0.6, -1.1, -0.5, -1.4, 0.2, -0.7, 0.1,
  -1.0, 0.5, -0.3, 0.2, 1.3, 0.0, -0.4, 0.9, -0.8, 0.4,
  0.5, -0.5, -1.0, -0.2, 0.3, -0.6, 0.7, -0.1, 1.0, 0.4,
  1.4, 0.3, 1.0, 0.0, 1.6, 0.8, 0.2, 1.3, 0.7, 1.7,
  1.0, 1.9, 0.6, 1.5, 1.1, 2.0, 1.8, 2.4, -1.6, -2.2,
  -1.3, -2.0, -0.8, -1.6, -1.0, -2.1, -0.6, -1.4, -0.9, -1.9,
  0.2, -1.0, 0.5, -0.6, 0.9, -0.2, 0.3, -0.5, -1.2, 0.6,
  -0.9, 0.4, -0.5, -1.1, 0.2, -0.3, 0.6, 1.0, -0.4, 0.7,
  -0.6, 0.9, 0.1, 0.8, -0.3, 0.2, -0.8, 0.4, -0.5, 0.5,
  -0.7, 0.6, -0.1, -0.9, -0.2, 0.6, -0.4, -0.8, 0.3, -0.6,
  -0.3, 0.4, -0.9, 0.2, -1.2, 0.5, -0.5, -0.7, 0.1, -1.0,
  0.2, -0.4, 0.7, -0.2, 0.8, -0.6, 0.3, -0.9, 0.6, 0.0];
const mt6 = [59415.28, 59418.0, 59420.26, 59421.81, 59423.37, 59424.3, 59425.08, 59425.42, 59425.58, 59425.7, 59425.79,
  59425.89, 59425.98, 59426.09, 59426.2, 59426.4, 59426.79, 59427.26, 59427.72, 59427.96, 59428.16, 59428.31,
  59428.5, 59428.73, 59428.86, 59428.97, 59429.12, 59429.35, 59429.59, 59429.82, 59430.02, 59430.15, 59430.29,
  59430.44, 59430.68, 59431.07, 59431.53, 59431.92, 59432.08, 59432.17, 59432.26, 59432.46, 59432.85, 59433.32,
  59433.79, 59434.25, 59434.72, 59435.03];
const mf6 = [19.6, 19.6, 20.5, 22, 24.9, 27.9, 30.8, 33.1, 47.2, 79, 100,
  115.4, 90.7, 55.5, 39.6, 41.4, 46.1, 50.8, 58.4, 48.4, 32, 22.6,
  24.9, 43.7, 55.5, 43.7, 29.6, 33.1, 43.7, 59, 100.1, 94.3, 73.1,
  50.8, 36.7, 27.3, 22.6, 20.8, 20.8, 69.6, 76, 68.4, 59, 49.6,
  41.4, 34.3, 30.2, 28.4];
const xTicks6 = [59415, 59420, 59425, 59430, 59435];
const yTicks6 = [0, 21, 42, 63, 84, 105, 126];

// ---- segment 7 : 4FGL J2236.5-1433 ----
const t7 = [56087.12, 56087.2, 56087.48, 56087.68, 56087.8, 56087.88, 56088.1, 56088.49, 56088.57, 56088.69,
  56088.89, 56088.96, 56089.01, 56089.08, 56089.28, 56089.31, 56089.4, 56089.5, 56089.7, 56089.92,
  56090.0, 56090.08, 56090.17, 56090.22, 56090.4, 56090.5, 56090.58, 56090.6, 56090.7, 56090.81,
  56090.82, 56090.9, 56091.0, 56091.05, 56091.19, 56091.31, 56091.38, 56091.45, 56091.55, 56091.59,
  56091.69, 56091.78, 56091.89, 56091.99, 56092.59, 56092.72, 56092.79, 56092.89, 56092.96, 56093.0,
  56093.09, 56093.2, 56093.28, 56093.4, 56093.53, 56093.6, 56093.8, 56093.9, 56094.0, 56094.1,
  56094.41, 56094.51, 56094.61, 56094.71, 56094.81, 56094.88, 56095.19, 56095.49, 56095.59, 56096.09,
  56096.4, 56096.57, 56096.6, 56096.67, 56096.72, 56096.77, 56096.79, 56096.89, 56096.98, 56097.08,
  56097.18, 56097.3, 56097.38, 56097.6, 56097.88, 56097.96, 56098.03, 56098.11, 56098.21, 56098.29,
  56098.56, 56098.69, 56098.79, 56098.8, 56098.89, 56098.94, 56098.99, 56099.04, 56099.09, 56099.39,
  56099.5, 56099.6, 56099.65, 56099.72, 56099.78, 56099.85, 56099.9, 56099.93];
const f7 = [10, 5.5, 8.4, 2.8, 8.4, 27.2, 7.2, 5.5, 6.4, 6.4,
  21.7, 18.1, 19.6, 11.8, 32.5, 61.8, 59.4, 24.5, 14.2, 14.5,
  7.6, 16.6, 16, 16.4, 11.8, 38.9, 34.7, 19, 7.6, 31.1,
  16, 41.3, 2.8, 11.8, 7, 22.1, 33.5, 34.7, 51.6, 23,
  31.1, 11.6, 11.2, 13, 22.1, 8.8, 7.6, 14.2, 14.8, 27.1,
  9.4, 28.7, 27.5, 16.6, 16, 10.8, 19, 9.4, 5.2, 8.4,
  20.2, 17.6, 11.8, 11.2, 9.6, 8.4, 14.5, 9.6, 25.1, 5.2,
  34.1, 11.8, 26.9, 44.4, 41.3, 29.9, 54, 22.7, 35.9, 13.6,
  10, 57, 15.4, 15.1, 15.1, 14.8, 17.8, 15.4, 14.8, 25.7,
  40.7, 14.5, 64.8, 32, 115.5, 97.4, 82.3, 38.3, 35.7, 15.7,
  15.4, 20.2, 18.4, 16, 21.5, 20.2, 7.6, 18.4];
const e7 = [5, 5, 5, 3, 4, 15, 4, 3, 4, 4,
  7, 6, 7, 5, 12, 17, 16, 9, 6, 6,
  5, 7, 7, 7, 6, 11, 10, 8, 5, 10,
  7, 12, 3, 6, 5, 8, 11, 11, 13, 9,
  10, 6, 6, 7, 13, 6, 5, 7, 7, 10,
  6, 10, 10, 8, 8, 6, 8, 6, 4, 5,
  20, 9, 7, 7, 6, 6, 9, 6, 10, 4,
  15, 8, 10, 12, 12, 10, 14, 9, 11, 7,
  6, 32, 9, 8, 8, 8, 8, 8, 9, 23,
  14, 7, 15, 11, 18, 17, 15, 12, 11, 8,
  9, 10, 9, 8, 9, 9, 6, 9];
const r7 = [-0.3, -0.8, -0.4, -2.2, 0.2, 0.6, -0.8, -1.0, -0.6, -0.9,
  0.5, 0.2, 0.4, -0.4, -0.3, -0.2, -0.1, 0.0, 0.1, -0.3,
  0.4, 0.3, 0.1, 0.5, -0.1, 0.6, 0.9, -0.5, -1.0, 0.7,
  0.2, 0.5, -2.8, -0.4, -0.7, 0.1, -0.4, -0.2, 0.5, -0.6,
  -0.3, -0.5, -0.1, -0.3, 0.4, -0.4, -0.7, -0.2, 0.6, 0.8,
  -0.5, 0.9, 0.8, 0.4, 0.3, 0.1, 0.6, -0.6, -0.9, -0.4,
  0.6, 0.3, -0.2, 0.1, -0.3, -0.4, 0.3, -0.5, 0.8, -1.1,
  1.3, -0.2, -0.3, 0.1, -0.5, 0.3, -0.6, 0.2, 0.6, -0.6,
  -0.9, 1.1, 0.1, 0.3, 0.3, 0.2, 0.4, 0.2, 0.1, 0.9,
  1.3, 0.2, -0.5, 0.3, 0.4, -0.4, 0.1, 0.6, 0.3, 0.1,
  -0.3, 0.5, 0.2, -0.2, 0.6, 0.3, -0.9, 0.4];
const mt7 = [56087.0, 56088.86, 56088.95, 56089.06, 56089.16, 56089.23, 56089.28, 56089.34, 56089.4, 56089.47, 56089.57,
  56089.72, 56090.0, 56091.13, 56091.28, 56091.41, 56091.49, 56091.58, 56091.73, 56091.89, 56092.04, 56092.54,
  56096.37, 56096.47, 56096.62, 56096.75, 56096.85, 56096.98, 56097.18, 56097.58, 56097.98, 56098.54, 56098.64,
  56098.74, 56098.82, 56098.89, 56098.96, 56099.04, 56099.19, 56099.36, 56100];
const mf7 = [10.4, 10.4, 11.5, 14, 21.5, 40, 57, 60, 56, 42, 20,
  12, 10.5, 10.5, 19, 37, 42.5, 36, 20, 14.2, 12.4, 10.6,
  10.4, 15.4, 31, 45, 42.5, 26.3, 17.8, 13, 11.2, 11.8, 17.8,
  43, 79, 110, 91, 27.5, 21.5, 11.2, 10.4];
const xTicks7 = [56090, 56095, 56100];
const yTicks7 = [0, 23, 46, 69, 92, 115, 138];

const seriesLabels = ['Orbit binning LC (TS > 9)', 'The best-fitting model', 'The fitting residuals'];
const sourceNames = ['4FGL J1800.6+7828', '4FGL J2202.7+4216', '4FGL J2202.7+4216', '4FGL J2202.7+4216',
  '4FGL J2202.7+4216', '4FGL J2202.7+4216', '4FGL J2236.5-1433'];
const bicValues = ['56.5', '111.5', '-1.4', '207.6', '22.2', '370.9', '97.9'];

// layout of each panel (plot box in page pixels, legend / note placement)
const LEFT = 95, TOP = 40, RIGHT = 40, BOTTOM = 90;
const SERIF = "'Liberation Serif', 'Times New Roman', serif";
const panels = {
  c1: { t: t1, f: f1, e: e1, r: r1, mt: mt1, mf: mf1, xt: xTicks1, yt: yTicks1, box: [77, 1, 691, 473],
        x: [59648, 59668], y: [-5, 75], tick: 27, yTitle: 59, xTitle: 72, square: true,
        leg: { sym: 32, line: [10, 56], text: 60.7, rows: [17.6, 41, 65], size: 19 },
        note: { x: 437, rows: [24.7, 48.3, 72.2], size: 19 } },
  c2: { t: t2, f: f2, e: e2, r: r2, mt: mt2, mf: mf2, xt: xTicks2, yt: yTicks2, box: [827, 11, 1431, 475],
        x: [59217.4, 59256.1], y: [-10.3, 275], tick: 27, yTitle: 71, xTitle: 71,
        leg: { sym: 33.6, line: [11.5, 57.4], text: 60.6, rows: [22.5, 45.7, 69], size: 18.8 },
        note: { x: 446.8, rows: [20, 42.9, 66.1], size: 18.8 } },
  c3: { t: t3, f: f3, e: e3, r: r3, mt: mt3, mf: mf3, xt: xTicks3, yt: yTicks3, box: [1555, 1, 2169, 473],
        x: [59249.5, 59264], y: [-5, 77.3], tick: 27, yTitle: 64, xTitle: 71.6,
        leg: { sym: 30.4, line: [6.7, 53.6], text: 57.2, rows: [22.2, 45.4, 68.6], size: 19.1 },
        note: { x: 443.3, rows: [23.3, 47.2, 70.4], size: 19.2 } },
  c4: { t: t4, f: f4, e: e4, r: r4, mt: mt4, mf: mf4, xt: xTicks4, yt: yTicks4, box: [90, 568, 691, 1031],
        x: [59324.5, 59339], y: [-10, 300], tick: 26.5, yTitle: 72, xTitle: 72,
        leg: { sym: 30.8, line: [7.8, 52.8], text: 57.4, rows: [17.8, 41.4, 65.3], size: 18.6 },
        note: { x: 443, rows: [24.2, 47.5, 70], size: 18.8 } },
  c5: { t: t5, f: f5, e: e5, r: r5, mt: mt5, mf: mf5, xt: xTicks5, yt: yTicks5, box: [827, 568, 1430, 1031],
        x: [59398.5, 59414.5], y: [-5, 130], tick: 26.5, yTitle: 70, xTitle: 70.4,
        leg: { sym: 22.1, line: [3.7, 40.4], text: 43.7, rows: [11.7, 29.6, 49.2], size: 15.2 },
        note: { x: 443.1, rows: [17.8, 41, 64.2], size: 18.8 } },
  c6: { t: t6, f: f6, e: e6, r: r6, mt: mt6, mf: mf6, xt: xTicks6, yt: yTicks6, box: [1565, 581, 2153, 1032],
        x: [59415, 59435.5], y: [-6, 143], tick: 26, yTitle: 72, xTitle: 69,
        leg: { sym: 28.2, line: [7.2, 50.5], text: 54.1, rows: [22.9, 45.4, 67.9], size: 18.3 },
        note: { x: 450, rows: [18.6, 40, 59.7], size: 16.2 } },
  c7: { t: t7, f: f7, e: e7, r: r7, mt: mt7, mf: mf7, xt: xTicks7, yt: yTicks7, box: [824, 1125, 1400, 1568],
        x: [56087, 56100], y: [-8.5, 150], tick: 26, yTitle: 71.5, xTitle: 66.5,
        leg: { sym: 32.1, line: [10.3, 53.6], text: 57.1, rows: [23.6, 44.8, 67.4], size: 18 },
        note: { x: 366, rows: [21.9, 44.8, 66.4], size: 17.9 } }
};

const POINT = '#454545', BAR = 'rgba(0, 0, 0, 0.72)', RESID = 'rgba(120, 120, 120, 0.62)', MODEL = 'rgba(235, 0, 0, 0.65)';

Chart.defaults.font.family = SERIF;
Chart.defaults.color = '#000';

// major ticks plus a minor tick halfway between
function withMinors(major, lo, hi) {
  const half = (major[1] - major[0]) / 2;
  const out = [];
  for (let v = major[0] - half; v <= hi + 1e-9; v += half) {
    if (v >= lo - 1e-9) out.push({ value: +v.toFixed(4) });
  }
  return out;
}

function tickLabel(v, major) {
  return major.some(m => Math.abs(m - v) < 1e-6) ? String(v) : '';
}

function drawYTitle(ctx, cx, cy, size) {
  const parts = [['Flux (10', false], ['-7', true], [' ph/cm', false], ['-2', true], ['/s)', false]];
  const big = size + 'px ' + SERIF, small = (size * 0.62) + 'px ' + SERIF;
  let w = 0;
  parts.forEach(([s, sup]) => { ctx.font = sup ? small : big; w += ctx.measureText(s).width; });
  ctx.save();
  ctx.translate(cx, cy);
  ctx.rotate(-Math.PI / 2);
  ctx.fillStyle = '#000';
  ctx.textBaseline = 'middle';
  ctx.textAlign = 'left';
  let x = -w / 2;
  parts.forEach(([s, sup]) => {
    ctx.font = sup ? small : big;
    ctx.fillText(s, x, sup ? -size * 0.36 : 0);
    x += ctx.measureText(s).width;
  });
  ctx.restore();
}

const decor = {
  id: 'decor',
  beforeDatasetDraw(chart, args) {
    if (args.index !== 0) return;
    const P = panels[chart.canvas.id];
    const { ctx, chartArea: a, scales: { x, y } } = chart;
    ctx.save();
    ctx.beginPath();
    ctx.rect(a.left, a.top, a.right - a.left, a.bottom - a.top);
    ctx.clip();
    ctx.strokeStyle = BAR;
    ctx.lineWidth = 2.5;
    // each bar stroked on its own so overlapping bars darken like the original
    P.t.forEach((t, i) => {
      const px = x.getPixelForValue(t);
      const lo = y.getPixelForValue(P.f[i] - P.e[i]);
      const hi = y.getPixelForValue(P.f[i] + P.e[i]);
      ctx.beginPath();
      ctx.moveTo(px, lo); ctx.lineTo(px, hi);
      ctx.moveTo(px - 4.7, lo); ctx.lineTo(px + 4.7, lo);
      ctx.moveTo(px - 4.7, hi); ctx.lineTo(px + 4.7, hi);
      ctx.stroke();
    });
    ctx.restore();
  },
  afterDraw(chart) {
    const P = panels[chart.canvas.id];
    const idx = Number(chart.canvas.id.slice(1)) - 1;
    const { ctx, chartArea: a } = chart;
    ctx.save();
    ctx.strokeStyle = '#000';
    ctx.lineWidth = 2.8;
    ctx.strokeRect(a.left, a.top, a.right - a.left, a.bottom - a.top);

    // legend
    const L = P.leg;
    ctx.font = L.size + 'px ' + SERIF;
    ctx.textBaseline = 'middle';
    ctx.textAlign = 'left';
    chart.data.datasets.forEach((ds, i) => {
      const yy = a.top + L.rows[i];
      if (i === 0) {
        ctx.fillStyle = POINT;
        ctx.beginPath(); ctx.arc(a.left + L.sym, yy, 4, 0, Math.PI * 2); ctx.fill();
      } else if (i === 1) {
        ctx.strokeStyle = MODEL; ctx.lineWidth = 5.5; ctx.lineCap = 'round';
        ctx.beginPath(); ctx.moveTo(a.left + L.line[0], yy); ctx.lineTo(a.left + L.line[1], yy); ctx.stroke();
      } else {
        ctx.fillStyle = RESID;
        if (P.square) ctx.fillRect(a.left + L.sym - 3.4, yy - 3.4, 6.8, 6.8);
        else { ctx.beginPath(); ctx.arc(a.left + L.sym, yy, 3.2, 0, Math.PI * 2); ctx.fill(); }
      }
      ctx.fillStyle = '#000';
      ctx.fillText(ds.label, a.left + L.text, yy);
    });

    // source note
    const N = P.note;
    ctx.font = N.size + 'px ' + SERIF;
    const lines = [sourceNames[idx], 'Flare segment ' + (idx + 1), 'BIC = ' + bicValues[idx]];
    lines.forEach((s, i) => ctx.fillText(s, a.left + N.x, a.top + N.rows[i]));
    ctx.restore();

    drawYTitle(ctx, a.left - P.yTitle, (a.top + a.bottom) / 2, 28);
  }
};

function makeChart(id) {
  const P = panels[id];
  const [l, t, r, b] = P.box;
  const cv = document.getElementById(id);
  const W = r - l + LEFT + RIGHT, H = b - t + TOP + BOTTOM;
  cv.width = W; cv.height = H;
  cv.style.width = W + 'px'; cv.style.height = H + 'px';
  cv.style.left = (l - LEFT) + 'px';
  cv.style.top = (t - TOP) + 'px';

  const points = P.t.map((x, i) => ({ x, y: P.f[i] }));
  const resid = P.t.map((x, i) => ({ x, y: P.r[i] })).filter(p => p.y !== undefined);
  const model = P.mt.map((x, i) => ({ x, y: P.mf[i] }));

  new Chart(cv, {
    type: 'scatter',
    data: {
      datasets: [
        { label: seriesLabels[0], data: points, order: 1, pointRadius: 3.9, pointBorderWidth: 0,
          backgroundColor: POINT, borderColor: POINT },
        { label: seriesLabels[1], data: model, order: 0, showLine: true, pointRadius: 0, borderWidth: 6,
          borderColor: MODEL, backgroundColor: MODEL, cubicInterpolationMode: 'monotone', borderJoinStyle: 'round' },
        { label: seriesLabels[2], data: resid, order: 2, pointRadius: P.square ? 4.8 : 3.2, pointBorderWidth: 0,
          pointStyle: P.square ? 'rect' : 'circle', backgroundColor: RESID, borderColor: RESID }
      ]
    },
    options: {
      responsive: false,
      animation: false,
      events: [],
      layout: { padding: { left: 0, top: TOP, right: RIGHT, bottom: 0 } },
      plugins: { legend: { display: false }, tooltip: { enabled: false } },
      scales: {
        x: {
          type: 'linear', min: P.x[0], max: P.x[1],
          afterBuildTicks: s => { s.ticks = withMinors(P.xt, P.x[0], P.x[1]); },
          afterFit: s => { s.height = BOTTOM; },
          border: { display: false },
          grid: { drawOnChartArea: false, drawTicks: true, tickLength: 8, tickColor: '#000', tickWidth: 2.4 },
          ticks: { autoSkip: false, maxRotation: 0, padding: 3, color: '#000', font: { size: P.tick },
                   callback: v => tickLabel(v, P.xt) },
          title: { display: true, text: 'Time (MJD)', color: '#000', font: { size: 28 },
                   padding: { top: 0, bottom: BOTTOM - 16.8 - P.xTitle } }
        },
        y: {
          type: 'linear', min: P.y[0], max: P.y[1],
          afterBuildTicks: s => { s.ticks = withMinors(P.yt, P.y[0], P.y[1]); },
          afterFit: s => { s.width = LEFT; },
          border: { display: false },
          grid: { drawOnChartArea: false, drawTicks: true, tickLength: 8, tickColor: '#000', tickWidth: 2.4 },
          ticks: { autoSkip: false, padding: 7, color: '#000', font: { size: P.tick },
                   callback: v => tickLabel(v, P.yt) }
        }
      }
    },
    plugins: [decor]
  });
}

Object.keys(panels).forEach(makeChart);
</script>
</body>
</html>
